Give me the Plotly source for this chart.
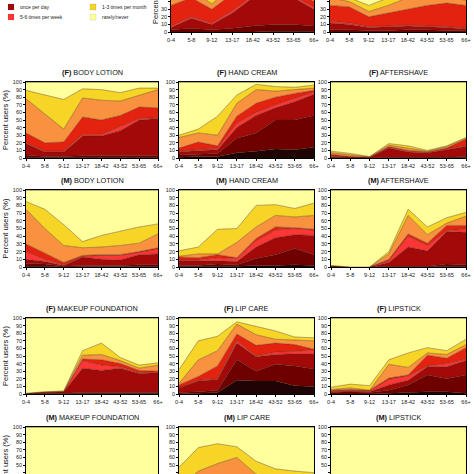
import plotly.graph_objects as go

AGE_GROUPS = ["0-4", "5-8", "9-12", "13-17", "18-42", "43-52", "53-65", "66+"]
FREQ_LABELS = ["more than twice per day", "twice per day", "once per day", "5-6 times per week",
               "2-4 times per week", "once per week", "1-3 times per month", "rarely/never"]
COLORS = ["#1e0404", "#6e0000", "#a20a0a", "#ff3636", "#e3230f", "#f9923e", "#f6d526", "#ffff9c"]

# cumulative tops of layers 1..7 (layer 8 "rarely/never" fills to 100)
TOP_MID = [[0, 0, 0, 0, 0, 1, 1, 1], [3, 5, 3, 5, 8, 10, 10, 8], [6, 18, 10, 25, 45, 50, 45, 30],
           [8, 20, 12, 28, 48, 52, 47, 33], [35, 45, 30, 50, 60, 60, 55, 40], [50, 55, 37, 60, 70, 70, 65, 55],
           [60, 65, 45, 70, 80, 80, 75, 65]]
TOP_RIGHT = [[0, 0, 0, 0, 0, 0, 0, 0], [3, 3, 2, 2, 3, 3, 2, 2], [12, 10, 6, 7, 8, 7, 6, 4],
             [14, 12, 7, 8, 9, 8, 7, 5], [35, 33, 20, 25, 30, 35, 38, 35], [45, 40, 27, 35, 45, 45, 45, 42],
             [55, 45, 35, 45, 55, 55, 55, 50]]
F_BODY_LOTION = [[1, 1, 1, 1, 1, 1, 1, 1], [4, 2, 2, 3, 3, 3, 3, 3], [19, 8, 8, 29, 29, 36, 50, 52],
                 [20, 9, 9, 31, 31, 42, 52, 53], [33, 20, 21, 54, 50, 56, 67, 66], [78, 58, 38, 79, 76, 75, 83, 90],
                 [89, 83, 77, 91, 90, 86, 92, 92]]
F_HAND_CREAM = [[1, 2, 2, 7, 9, 12, 11, 14], [4, 5, 6, 26, 33, 50, 50, 56], [8, 10, 11, 40, 56, 66, 74, 84],
                [9, 11, 13, 46, 60, 70, 78, 87], [13, 21, 16, 55, 72, 80, 85, 89], [27, 33, 30, 72, 90, 88, 90, 92],
                [30, 38, 55, 83, 97, 94, 93, 96]]
F_AFTERSHAVE = [[0.5, 0, 0, 0.5, 0.5, 0.5, 0.5, 1], [1, 0.5, 0, 1, 1, 1, 1, 2], [2, 1, 0.5, 13, 8, 7, 11, 15],
                [3, 1, 1, 14, 9, 8, 12, 16], [5, 2, 1, 15, 10, 8, 13, 25], [7, 4, 1.5, 17, 13, 9, 15, 26],
                [9, 6, 2, 19, 16, 10, 16, 27]]
M_BODY_LOTION = [[1, 1, 0, 0.5, 0.5, 0.5, 1, 1], [5, 4, 1, 2, 2, 2, 3, 3], [10, 7, 2, 13, 10, 9, 16, 17],
                 [20, 10, 3, 14, 15, 15, 19, 23], [30, 18, 6, 15, 16, 16, 20, 25], [75, 50, 28, 25, 26, 28, 31, 43],
                 [85, 75, 55, 33, 41, 47, 52, 56]]
M_HAND_CREAM = [[1, 1, 1, 1, 2, 2, 3, 2], [2, 2, 4, 3, 11, 16, 24, 16], [8, 8, 8, 7, 26, 38, 42, 41],
                [9, 9, 12, 11, 34, 48, 50, 48], [13, 12, 16, 12, 37, 52, 51, 49], [14, 17, 17, 32, 52, 67, 65, 67],
                [21, 26, 49, 50, 80, 81, 76, 83]]
M_AFTERSHAVE = [[0, 0, 0, 0, 0, 0, 1, 1], [0.5, 0, 0, 1, 1, 1, 4, 3], [1, 0, 0, 6, 26, 21, 46, 45],
                [1, 0, 0, 8, 40, 28, 47, 49], [1.5, 0, 0, 10, 43, 31, 54, 54], [2, 0, 0, 17, 67, 42, 57, 66],
                [2, 0, 0, 20, 75, 52, 64, 71]]
F_MAKEUP = [[0, 0, 0, 1, 1, 1, 1, 1], [0, 1, 1, 2, 2, 2, 2, 2], [0.5, 2, 3, 34, 31, 34, 27, 28],
            [0.5, 2, 3, 44, 38, 36, 28, 29], [0.5, 3, 3, 46, 45, 40, 31, 30], [1, 3, 4, 51, 52, 44, 34, 38],
            [1, 3, 4, 57, 67, 48, 38, 41]]
F_LIP_CARE = [[0, 1, 2, 18, 17, 17, 11, 10], [2, 3, 5, 45, 30, 39, 37, 33], [8, 17, 19, 67, 49, 52, 53, 53],
              [8, 18, 20, 70, 50, 55, 56, 58], [12, 23, 37, 79, 64, 67, 65, 59], [14, 45, 57, 92, 78, 72, 71, 70],
              [32, 70, 76, 95, 89, 83, 75, 74]]
F_LIPSTICK = [[0, 0, 0, 1, 2, 3, 3, 1], [2, 3, 2, 5, 12, 25, 20, 25], [3, 4, 3, 12, 18, 36, 36, 44],
              [4, 5, 4, 19, 24, 37, 40, 46], [5, 6, 5, 21, 25, 51, 47, 61], [6, 8, 5, 39, 35, 54, 52, 65],
              [9, 13, 11, 45, 54, 61, 57, 72]]
M_MAKEUP = [[0] * 8, [0] * 8, [0, 0, 0, 1, 1, 1, 0.5, 0.5], [0, 0, 0, 1, 1, 1, 0.5, 0.5],
            [0, 0, 0, 1, 1, 1, 0.5, 0.5], [0, 0, 0, 1, 1, 1, 0.5, 0.5], [0, 0, 0, 1, 1, 1, 0.5, 0.5]]
M_LIP_CARE = [[0, 0, 0, 1, 1, 1, 1, 1], [1, 2, 3, 5, 5, 5, 4, 4], [3, 6, 8, 12, 10, 9, 8, 8],
              [4, 8, 10, 14, 12, 10, 9, 9], [8, 18, 25, 30, 22, 16, 12, 11], [20, 42, 52, 60, 38, 30, 25, 22],
              [47, 73, 78, 74, 55, 45, 42, 40]]
M_LIPSTICK = [[0] * 8, [0] * 8, [0, 0, 0, 1, 1, 1, 1, 1], [0, 0, 0, 1, 1, 1, 1, 1],
              [0, 0, 0, 1, 1, 1, 1, 1], [0, 0, 0, 1, 1, 1, 1, 1], [0, 0, 0, 1, 1, 1, 1, 1]]

W = H = 474
FONT = "Liberation Sans, Arial, sans-serif"


def fx(p):
    return p / W


def fy(p):
    return 1 - p / H


COL1 = (26, 158)
COL2 = (179, 314)
COL3 = (331, 466)
COL2T = (171, 314)
COL3T = (330, 466)

# (data, title, xcols px, (top px, bottom px), yrange, ytitle x px or None, row kind)
PANELS = [
    (TOP_MID, None, COL2T, (-44, 32), [0, 42.1], 156, "top"),
    (TOP_RIGHT, None, COL3T, (-44, 32), [0, 42.1], None, "top"),
    (F_BODY_LOTION, "<b>(F)</b> BODY LOTION", COL1, (82, 158), [0, 100], 5, "full"),
    (F_HAND_CREAM, "<b>(F)</b> HAND CREAM", COL2, (82, 158), [0, 100], None, "full"),
    (F_AFTERSHAVE, "<b>(F)</b> AFTERSHAVE", COL3, (82, 158), [0, 100], None, "full"),
    (M_BODY_LOTION, "<b>(M)</b> BODY LOTION", COL1, (190, 267), [0, 100], 5, "full"),
    (M_HAND_CREAM, "<b>(M)</b> HAND CREAM", COL2, (190, 267), [0, 100], None, "full"),
    (M_AFTERSHAVE, "<b>(M)</b> AFTERSHAVE", COL3, (190, 267), [0, 100], None, "full"),
    (F_MAKEUP, "<b>(F)</b> MAKEUP FOUNDATION", COL1, (318, 394), [0, 100], 5, "full"),
    (F_LIP_CARE, "<b>(F)</b> LIP CARE", COL2, (318, 394), [0, 100], None, "full"),
    (F_LIPSTICK, "<b>(F)</b> LIPSTICK", COL3, (318, 394), [0, 100], None, "full"),
    (M_MAKEUP, "<b>(M)</b> MAKEUP FOUNDATION", COL1, (427, 503), [38.2, 100], 5, "bottom"),
    (M_LIP_CARE, "<b>(M)</b> LIP CARE", COL2, (427, 503), [38.2, 100], None, "bottom"),
    (M_LIPSTICK, "<b>(M)</b> LIPSTICK", COL3, (427, 503), [38.2, 100], None, "bottom"),
]

fig = go.Figure()
layout = {}
annotations = []
xs = list(range(len(AGE_GROUPS)))
for i, (data, title, cols, rows, yr, ytitle_x, kind) in enumerate(PANELS):
    n = i + 1
    xa = "x" if n == 1 else f"x{n}"
    ya = "y" if n == 1 else f"y{n}"
    top, bot = rows
    ydom = [max(0, fy(bot)), min(1, fy(top))]
    for k, layer in enumerate(data):
        fig.add_trace(go.Scatter(
            x=xs, y=layer, mode="lines", xaxis=xa, yaxis=ya,
            fill="tozeroy" if k == 0 else "tonexty", fillcolor=COLORS[k],
            line=dict(color="rgba(60,25,0,0.75)", width=0.5), showlegend=False,
            name=FREQ_LABELS[k], hoverinfo="skip"))
    fig.add_trace(go.Scatter(
        x=xs, y=[100] * len(xs), mode="lines", xaxis=xa, yaxis=ya, fill="tonexty",
        fillcolor=COLORS[7], line=dict(color="black", width=0.6), showlegend=False,
        name=FREQ_LABELS[7], hoverinfo="skip"))
    axcommon = dict(showline=True, linecolor="black", linewidth=0.8, showgrid=False,
                    zeroline=False, ticklen=2, tickwidth=0.6, tickcolor="black", automargin=False,
                    tickfont=dict(size=5.5, color="#222", family=FONT))
    xdict = dict(domain=[fx(cols[0]), fx(cols[1])], range=[0, 7], tickvals=xs, ticktext=AGE_GROUPS,
                 anchor=ya, **axcommon)
    if kind == "full":
        xdict.update(mirror=True, ticks="outside")
    elif kind == "top":
        xdict.update(mirror=False, ticks="outside")
    else:
        xdict.update(mirror=False, side="top", ticks="", showticklabels=False)
    layout["xaxis" if n == 1 else f"xaxis{n}"] = xdict
    layout["yaxis" if n == 1 else f"yaxis{n}"] = dict(
        domain=ydom, range=yr, tickvals=list(range(0, 101, 10)), anchor=xa, mirror=True,
        ticks="outside", **axcommon)
    if title:
        annotations.append(dict(text=title, x=fx((cols[0] + cols[1]) / 2), y=fy(top - 10),
                                xref="paper", yref="paper", showarrow=False, xanchor="center",
                                yanchor="middle", font=dict(size=7.3, family=FONT, color="#111")))
    if ytitle_x is not None:
        annotations.append(dict(text="Percent users (%)", x=fx(ytitle_x), y=fy((top + bot) / 2),
                                xref="paper", yref="paper", showarrow=False, textangle=-90,
                                xanchor="center", yanchor="middle",
                                font=dict(size=7.5, family=FONT, color="#111")))

# legend (visible lower rows)
LEG_ITEMS = [(2, 8, 7), (3, 8, 17), (6, 90, 7), (7, 90, 17)]
shapes = []
for idx, lx, ly in LEG_ITEMS:
    shapes.append(dict(type="rect", xref="paper", yref="paper", x0=fx(lx), x1=fx(lx + 6),
                       y0=fy(ly + 3), y1=fy(ly - 3), fillcolor=COLORS[idx],
                       line=dict(color="rgba(0,0,0,0.2)", width=0.4)))
    annotations.append(dict(text=FREQ_LABELS[idx], x=fx(lx + 10), y=fy(ly), xref="paper", yref="paper",
                            showarrow=False, xanchor="left", yanchor="middle",
                            font=dict(size=5, family=FONT, color="#222")))

fig.update_layout(width=W, height=H, margin=dict(l=0, r=0, t=0, b=0, autoexpand=False),
                  paper_bgcolor="white", plot_bgcolor="white", annotations=annotations, shapes=shapes,
                  font=dict(family=FONT), **layout)
fig.write_html("out.html")
